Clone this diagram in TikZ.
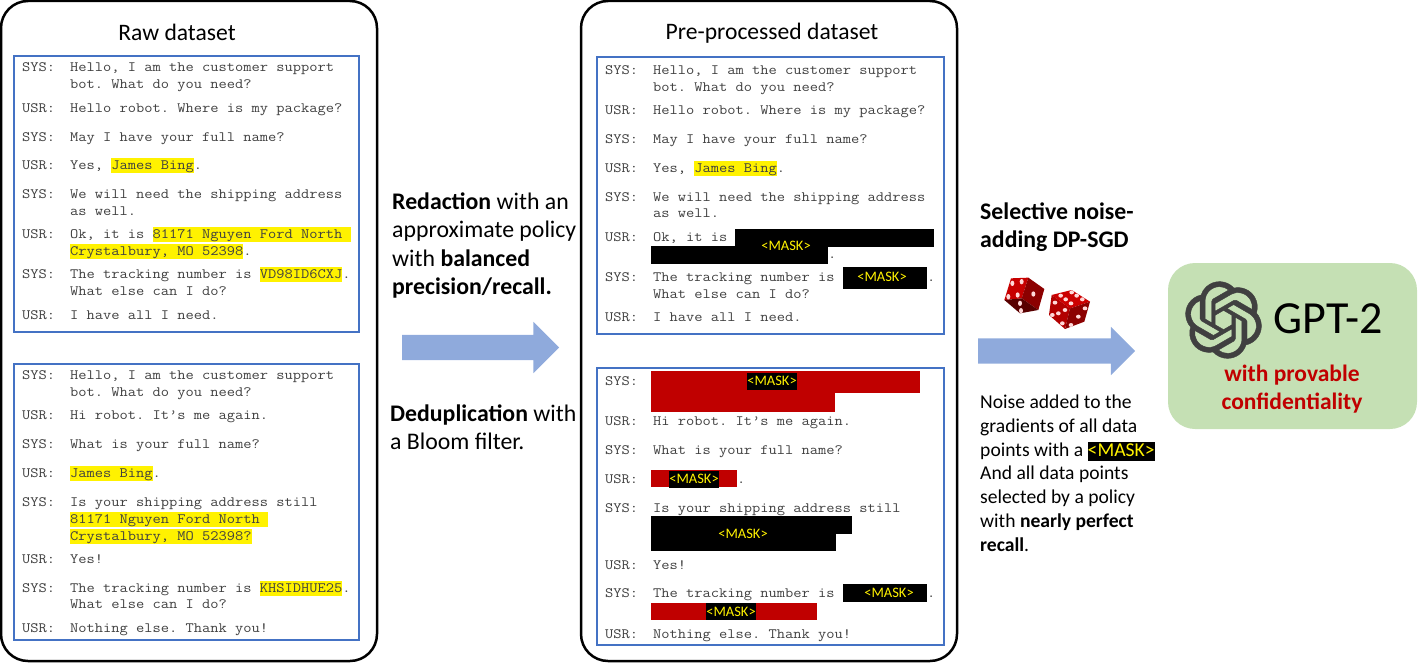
\documentclass[tikz,border=0pt]{standalone}
\usepackage{fontspec}
\setmainfont{Carlito}
\setmonofont{Latin Modern Mono}[FakeStretch=1.12]
\usetikzlibrary{shapes.arrows,svg.path}
\definecolor{boxblue}{HTML}{4472C4}
\definecolor{arrowblue}{HTML}{8FAADC}
\definecolor{gptgreen}{HTML}{C5E0B4}
\definecolor{redact}{HTML}{C00000}
\definecolor{dlggray}{HTML}{404040}
\definecolor{logogray}{HTML}{404040}
\definecolor{masktext}{HTML}{FFF200}
\setlength{\fboxsep}{0pt}
\newcommand{\hl}[1]{\colorbox{yellow}{\rule[-3.5pt]{0pt}{15pt}#1}}
\tikzset{
  panel/.style={draw=black,line width=2.5pt,rounded corners=27pt},
  dlgbox/.style={draw=boxblue,line width=1.2pt},
  dlg/.style={anchor=base west,inner sep=0pt,text=dlggray,font=\fontsize{14.3}{16}\selectfont\ttfamily},
  title/.style={inner sep=0pt,font=\fontsize{23.6}{28}\selectfont},
  note/.style={anchor=north west,inner sep=0pt,align=left,font=\fontsize{23.8}{28.3}\selectfont},
  small/.style={anchor=north west,inner sep=0pt,align=left,font=\fontsize{19.6}{23.7}\selectfont},
  masktag/.style={fill=black,text=masktext,inner sep=0pt,minimum width=47pt,minimum height=17pt,font=\fontsize{14.5}{16}\selectfont},
  bigarrow/.style={single arrow,fill=arrowblue,anchor=west,inner xsep=0pt,inner ysep=12.5pt,outer sep=0pt},
  pip/.style={fill=white!85!red},
}
\begin{document}
\begin{tikzpicture}[x=1pt,y=-1pt]
\useasboundingbox (0,0) rectangle (1420,666);
% panels
\draw[panel] (1,1) rectangle (377,661);
\draw[panel] (581,1) rectangle (957,661);
\node[title] (rawtitle) at (177,32) {Raw dataset};
\node[title] (pretitle) at (772,33) {Pre-processed dataset};
\draw[dlgbox] (14,56) rectangle (359,332);
\draw[dlgbox] (14,364) rectangle (359,640);
\draw[dlgbox] (597,57) rectangle (944,334);
\draw[dlgbox] (597,368) rectangle (944,645);
\begin{scope}[yshift=.8pt]
% raw dialogues
\foreach \y/\who in {72/SYS:,113/USR:,142/SYS:,170/USR:,199/SYS:,239/USR:,279/SYS:,320/USR:,380/SYS:,420/USR:,449/SYS:,478/USR:,507/SYS:,564/USR:,593/SYS:,633/USR:}
  \node[dlg] (rawwho\y) at (22,\y) {\who};
\foreach \y/\what in {72/{Hello, I am the customer support},89/{bot. What do you need?},113/{Hello robot. Where is my package?},142/{May I have your full name?},170/{Yes, \hl{James Bing}.},199/{We will need the shipping address},216/{as well.},239/{Ok, it is \hl{81171 Nguyen Ford North\ }},256/{\hl{Crystalbury, MO 52398}.},279/{The tracking number is \hl{VD98ID6CXJ}.},296/{What else can I do?},320/{I have all I need.},
  380/{Hello, I am the customer support},397/{bot. What do you need?},420/{Hi robot. It’s me again.},449/{What is your full name?},478/{\hl{James Bing}.},507/{Is your shipping address still},524/{\hl{81171 Nguyen Ford North\ }},541/{\hl{Crystalbury, MO 52398?}},564/{Yes!},593/{The tracking number is \hl{KHSIDHUE25}.},609/{What else can I do?},633/{Nothing else. Thank you!}}
  \node[dlg] (rawline\y) at (70,\y) {\what};
% pre-processed dialogues
\foreach \y/\who in {75/SYS:,115/USR:,144/SYS:,173/USR:,202/SYS:,242/USR:,282/SYS:,322/USR:,386/SYS:,426/USR:,455/SYS:,484/USR:,513/SYS:,570/USR:,598/SYS:,639/USR:}
  \node[dlg] (prewho\y) at (605,\y) {\who};
\foreach \y/\what in {75/{Hello, I am the customer support},92/{bot. What do you need?},115/{Hello robot. Where is my package?},144/{May I have your full name?},173/{Yes, \hl{James Bing}.},202/{We will need the shipping address},218/{as well.},242/{Ok, it is},282/{The tracking number is},299/{What else can I do?},322/{I have all I need.},
  426/{Hi robot. It’s me again.},455/{What is your full name?},513/{Is your shipping address still},570/{Yes!},598/{The tracking number is},639/{Nothing else. Thank you!}}
  \node[dlg] (preline\y) at (653,\y) {\what};
\node[dlg] (dota) at (828,259) {.};
\node[dlg] (dotb) at (927,282) {.};
\node[dlg] (dotc) at (737,484) {.};
\node[dlg] (dotd) at (927,598) {.};
\end{scope}
% redactions
\fill[black] (735,229) rectangle (934,247);
\fill[black] (651,246) rectangle (828,264);
\fill[black] (843,267) rectangle (927,289);
\fill[redact] (651,371) rectangle (920,393);
\fill[redact] (651,393) rectangle (835,412);
\fill[redact] (651,470) rectangle (737,487);
\fill[black] (651,516) rectangle (852,534);
\fill[black] (651,534) rectangle (836,551);
\fill[black] (843,584) rectangle (927,602);
\fill[redact] (651,603) rectangle (817,620);
\node[masktag] (maska) at (786,246) {<MASK>};
\node[masktag] (maskb) at (882,277) {<MASK>};
\node[masktag] (maskc) at (772,381) {<MASK>};
\node[masktag] (maskd) at (694,479) {<MASK>};
\node[masktag] (maske) at (743,534) {<MASK>};
\node[masktag] (maskf) at (889,593) {<MASK>};
\node[masktag] (maskg) at (731,611.5) {<MASK>};
% middle text and arrows
\node[note] (redaction) at (392,192.5) {\textbf{Redaction} with an\\approximate policy\\with \textbf{balanced}\\\textbf{precision/recall.}};
\node[note] (dedup) at (390,404.5) {\textbf{Deduplication} with\\a Bloom filter.};
\node[bigarrow,minimum height=157pt,single arrow head extend=13pt] (arrowa) at (402,347.5) {};
\node[note] (selective) at (980,202.5) {\textbf{Selective noise-}\\\textbf{adding DP-SGD}};
\node[bigarrow,minimum height=157pt,single arrow head extend=11.5pt] (arrowb) at (978,351) {};
\node[small] (noise) at (980,395) {Noise added to the\\gradients of all data\\points with a \colorbox{black}{\textcolor{yellow}{\rule[-5pt]{0pt}{19pt}<MASK>}}\\And all data points\\selected by a policy\\with \textbf{nearly perfect}\\\textbf{recall}.};
% dice
\begin{scope}[shift={(995,265)},x=.3333pt,y=-.3333pt]
\fill[red!78!black] (48,40) -- (100,38) -- (80,100) -- (28,105) -- cycle;
\fill[red!55!black] (100,38) -- (148,72) -- (130,135) -- (80,100) -- cycle;
\fill[red!35!black] (28,105) -- (80,100) -- (130,135) -- (75,145) -- cycle;
\foreach \px/\py in {52/55,80/50,40/95,68/90,115/87,75/115,78/137}
  \fill[pip] (\px,\py) ellipse (6 and 8);
\fill[red!80!black] (170,90) -- (230,75) -- (285,110) -- (225,130) -- cycle;
\fill[red!70!black] (170,90) -- (225,130) -- (210,192) -- (162,150) -- cycle;
\fill[red!55!black] (225,130) -- (285,110) -- (268,170) -- (210,192) -- cycle;
\foreach \px/\py in {197/92,230/82,245/92,262/103,212/103,228/115,180/113,210/135,190/145,172/150,202/175,270/130,250/155,228/180}
  \fill[pip] (\px,\py) ellipse (7 and 6);
\end{scope}
% model box
\fill[gptgreen,rounded corners=27pt] (1168,263) rectangle (1417,429);
\begin{scope}[shift={(1185.1,281.6)},scale=3.2,yscale=-1]
\filldraw[logogray,even odd rule,line width=.4pt] svg "M 22.2819 9.8211 a 5.9847 5.9847 0 0 0 -0.5157 -4.9108 a 6.0462 6.0462 0 0 0 -6.5098 -2.9 A 6.0651 6.0651 0 0 0 4.9807 4.1818 a 5.9847 5.9847 0 0 0 -3.9977 2.9 a 6.0462 6.0462 0 0 0 0.7427 7.0966 a 5.98 5.98 0 0 0 0.511 4.9107 a 6.051 6.051 0 0 0 6.5146 2.9001 A 5.9847 5.9847 0 0 0 13.2599 24 a 6.0557 6.0557 0 0 0 5.7718 -4.2058 a 5.9894 5.9894 0 0 0 3.9977 -2.9001 a 6.0557 6.0557 0 0 0 -0.7475 -7.0729 z M 13.2599 22.4292 a 4.4755 4.4755 0 0 1 -2.8764 -1.0408 l 0.1419 -0.0804 l 4.7783 -2.7582 a 0.7948 0.7948 0 0 0 0.3927 -0.6813 v -6.7369 l 2.02 1.1686 a 0.071 0.071 0 0 1 0.038 0.052 v 5.5826 a 4.504 4.504 0 0 1 -4.4945 4.4944 z M 3.5992 18.3038 a 4.4708 4.4708 0 0 1 -0.5346 -3.0137 l 0.142 0.0852 l 4.783 2.7582 a 0.7712 0.7712 0 0 0 0.7806 0 l 5.8428 -3.3685 v 2.3324 a 0.0804 0.0804 0 0 1 -0.0332 0.0615 L 9.74 19.9502 a 4.4992 4.4992 0 0 1 -6.1408 -1.6464 z M 2.3408 7.8956 a 4.485 4.485 0 0 1 2.3655 -1.9728 V 11.6 a 0.7664 0.7664 0 0 0 0.3879 0.6765 l 5.8144 3.3543 l -2.0201 1.1685 a 0.0757 0.0757 0 0 1 -0.071 0 l -4.8303 -2.7865 A 4.504 4.504 0 0 1 2.3408 7.872 z M 18.9371 11.7514 L 13.1038 8.364 L 15.1192 7.2 a 0.0757 0.0757 0 0 1 0.071 0 l 4.8303 2.7913 a 4.4944 4.4944 0 0 1 -0.6765 8.1042 v -5.6772 a 0.79 0.79 0 0 0 -0.407 -0.667 z M 20.9478 8.7283 l -0.142 -0.0852 l -4.7735 -2.7818 a 0.7759 0.7759 0 0 0 -0.7854 0 L 9.409 9.2297 V 6.8974 a 0.0662 0.0662 0 0 1 0.0284 -0.0615 l 4.8303 -2.7866 a 4.4992 4.4992 0 0 1 6.6802 4.66 z M 8.3065 12.863 l -2.02 -1.1638 a 0.0804 0.0804 0 0 1 -0.038 -0.0567 V 6.0742 a 4.4992 4.4992 0 0 1 7.3757 -3.4537 l -0.142 0.0805 L 8.704 5.459 a 0.7948 0.7948 0 0 0 -0.3927 0.6813 z M 9.4041 10.4976 l 2.602 -1.4998 l 2.6069 1.4998 v 2.9994 l -2.5974 1.4997 l -2.6067 -1.4997 z";
\end{scope}
\node[inner sep=0pt,font=\fontsize{46}{50}\selectfont] (gpt) at (1328,319) {GPT-2};
\node[inner sep=0pt,align=center,text=redact,font=\fontsize{23.5}{28.5}\selectfont\bfseries] (provable) at (1292,389) {with provable\\confidentiality};
\end{tikzpicture}
\end{document}
